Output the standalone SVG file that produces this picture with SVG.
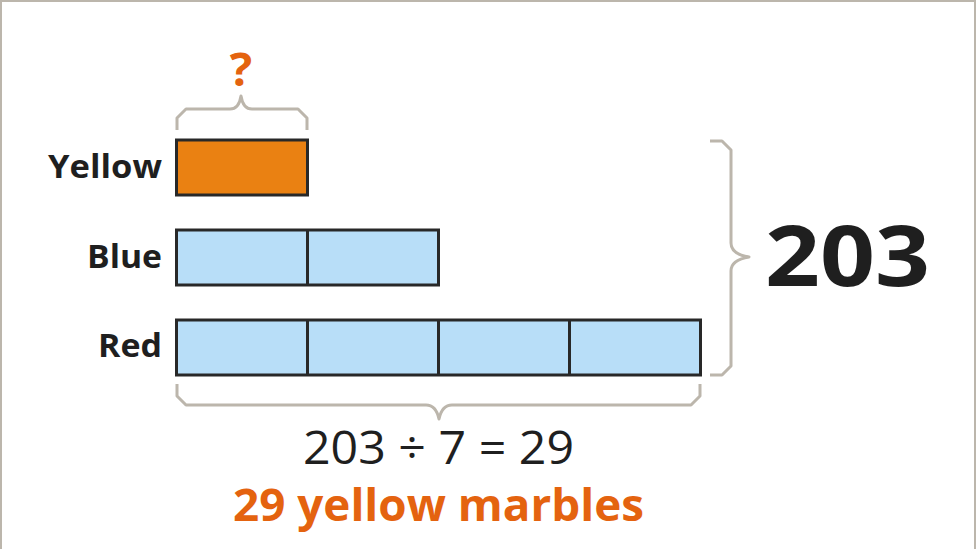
<svg xmlns="http://www.w3.org/2000/svg" width="976" height="549" viewBox="0 0 976 549">
<style>
.bar{stroke:#282828;stroke-width:3}
.yel{fill:#ea8112}
.blu{fill:#b8def8}
.div{stroke:#282828;stroke-width:3}
.brace{fill:none;stroke:#bcb6ac;stroke-width:3;stroke-linejoin:round}
text{font-family:"Open Sans","Noto Sans",sans-serif}
.lbl{font-weight:700;fill:#1f1f1f;text-anchor:end;font-size:32px}
.big{font-weight:700;fill:#1f1f1f;font-size:84px}
.eq{font-weight:400;fill:#1f1f1f;font-size:45px}
.ans{font-weight:700;fill:#e4630f;font-size:45px}
.q{font-weight:700;fill:#e4630f;font-size:47px;text-anchor:middle}
</style>
<rect x="0" y="0" width="976" height="549" fill="#ffffff"/>
<path d="M1,549 V1 H975 V549" fill="none" stroke="#bcb6ac" stroke-width="2"/>
<g id="yellow">
<text class="lbl" x="162" y="178" textLength="114" lengthAdjust="spacingAndGlyphs">Yellow</text>
<rect class="bar yel" x="176.5" y="140" width="131" height="55"/>
</g>
<g id="blue">
<text class="lbl" x="162" y="268" textLength="75" lengthAdjust="spacingAndGlyphs">Blue</text>
<rect class="bar blu" x="176.5" y="230" width="262" height="55"/>
<line class="div" x1="307.5" y1="230" x2="307.5" y2="285"/>
</g>
<g id="red">
<text class="lbl" x="162" y="357" textLength="64" lengthAdjust="spacingAndGlyphs">Red</text>
<rect class="bar blu" x="176.5" y="320" width="524" height="55"/>
<line class="div" x1="307.5" y1="320" x2="307.5" y2="375"/>
<line class="div" x1="438.5" y1="320" x2="438.5" y2="375"/>
<line class="div" x1="569.5" y1="320" x2="569.5" y2="375"/>
</g>
<g id="connectors">
<path class="brace" d="M177,130 V118 L186,109 H230 Q239,109 241,96 Q243,109 252,109 H298 L307,118 V130"/>
<path class="brace" d="M710,141 H722 L731,150 V243 Q731,254 749,257 Q731,260 731,271 V366 L722,375 H710"/>
<path class="brace" d="M177,384 V396 L186,405 H426 Q436,405 439,419 Q442,405 452,405 H691 L700,396 V384"/>
</g>
<g id="question">
<text class="q" x="241" y="86">?</text>
</g>
<g id="total">
<text class="big" x="765" y="286" textLength="165" lengthAdjust="spacingAndGlyphs">203</text>
</g>
<g id="result">
<text class="eq" x="303" y="464" textLength="271" lengthAdjust="spacingAndGlyphs">203 ÷ 7 = 29</text>
<text class="ans" x="233" y="521" textLength="411" lengthAdjust="spacingAndGlyphs">29 yellow marbles</text>
</g>
</svg>
